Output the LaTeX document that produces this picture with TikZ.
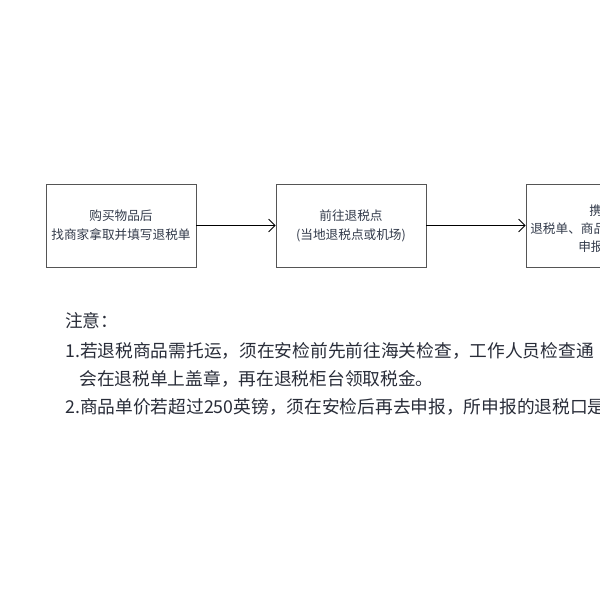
\documentclass[tikz,border=0pt]{standalone}
\usepackage{fontspec}
\setmainfont{Noto Sans CJK SC}
\usetikzlibrary{arrows.meta, positioning}
\definecolor{boxline}{RGB}{85,85,85}
\definecolor{boxink}{RGB}{50,58,74}
\definecolor{noteink}{RGB}{40,44,56}

\begin{document}
\begin{tikzpicture}[
  x=0.025cm, y=-0.025cm,
  stepbox/.style={rectangle, draw=boxline, line width=0.6pt, minimum width=3.75cm, minimum height=2.075cm, align=center, text=boxink, font=\fontsize{9}{13.5}\selectfont, inner sep=0pt},
  boxline/.style={anchor=west, inner sep=0pt, text=boxink, font=\fontsize{9}{13.5}\selectfont},
  arr/.style={-{Straight Barb[length=1.6mm, width=3.2mm]}, line width=0.6pt, boxline},
  note/.style={anchor=west, inner sep=0pt, text=noteink, font=\fontsize{12.6}{15}\selectfont}
]
  \useasboundingbox (0,0) rectangle (600,600);
  \clip (0,0) rectangle (600,600);
  % Steps
  \node[stepbox] (buy) at (121,225.5) {购买物品后\\找商家拿取并填写退税单};
  \node[stepbox] (goto) at (351,225.5) {前往退税点\\(当地退税点或机场)};
  \node[stepbox] (carry) at (601,225.5) {};
  \node[boxline] (carryA) at (589,211) {携};
  \node[boxline] (carryB) at (530,229) {退税单、商品};
  \node[boxline] (carryC) at (578,247) {申报};
  % Arrows
  \draw[arr] (buy) -- (goto);
  \draw[arr] (goto) -- (carry);
  % Notes
  \node[note] (head) at (65,321) {注意：};
  \node[note] (noteA) at (65,351) {1.若退税商品需托运，须在安检前先前往海关检查，工作人员检查通};
  \node[note] (noteB) at (79,379) {会在退税单上盖章，再在退税柜台领取税金。};
  \node[note] (noteC) at (65,407) {2.商品单价若超过250英镑，须在安检后再去申报，所申报的退税口是};
\end{tikzpicture}
\end{document}
